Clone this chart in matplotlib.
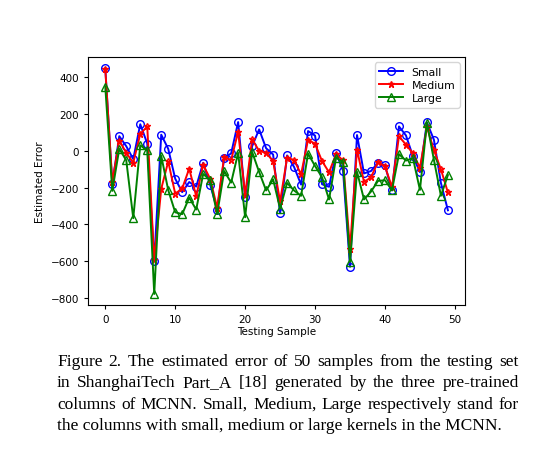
import numpy as np
import matplotlib
matplotlib.use("Agg")
import matplotlib.pyplot as plt

# ============================
#  DATA
# ============================
samples = np.arange(50)

small = [450, -180, 80, 25, -45, 145, 40, -600, 88, 11,
         -152, -225, -170, -195, -65, -185, -320, -40, -14, 157,
         -254, 25, 117, 14, -20, -340, -25, -88, -184, 108,
         83, -182, -196, -11, -108, -632, 86, -123, -110, -65,
         -79, -216, 133, 84, -30, -116, 155, 60, -175, -324]

medium = [445, -170, 56, -11, -65, 92, 133, -596, -207, -58,
          -234, -205, -97, -247, -77, -152, -310, -33, -50, 104,
          -240, 63, 0, -11, -56, -276, -38, -50, -128, 61,
          38, -56, -117, -18, -52, -533, 7, -170, -144, -60,
          -85, -198, 79, 34, -14, -92, 130, 3, -101, -227]

large = [349, -218, 11, -52, -367, 30, 2, -780, -27, -214,
         -335, -345, -255, -320, -126, -160, -345, -110, -173, -11,
         -362, -6, -115, -216, -155, -315, -175, -216, -245, -15,
         -83, -144, -265, -38, -60, -605, -114, -265, -222, -164,
         -160, -215, -18, -53, -40, -213, 153, -50, -245, -132]

caption = [
    "Figure 2. The estimated error of 50 samples from the testing set",
    "in ShanghaiTech Part_A [18] generated by the three pre-trained",
    "columns of MCNN. Small, Medium, Large respectively stand for",
    "the columns with small, medium or large kernels in the MCNN.",
]

# ============================
#  FIGURE
# ============================
fig = plt.figure(figsize=(5.51, 4.64), dpi=100)
ax = fig.add_axes([0.160, 0.340, 0.684, 0.535])

ax.plot(samples, small, "b-o", mfc="none", ms=5.5, lw=1.4, label="Small")
ax.plot(samples, medium, "r-*", mfc="none", ms=5, lw=1.4, label="Medium")
ax.plot(samples, large, "g-^", mfc="none", ms=5.5, lw=1.4, label="Large")

ax.set_xticks([0, 10, 20, 30, 40, 50])
ax.set_yticks([-800, -600, -400, -200, 0, 200, 400])
ax.tick_params(labelsize=7.5, length=3)
ax.set_xlabel("Testing Sample", fontsize=7.5, labelpad=1)
ax.set_ylabel("Estimated Error", fontsize=7.5)
ax.legend(loc="upper right", fontsize=7.8, handlelength=2.2,
          borderpad=0.4, labelspacing=0.3)

# ============================
#  CAPTION (justified lines)
# ============================
x_left, x_right = 57 / 551, 519 / 551
line_y = [362, 383, 405, 426]
renderer = fig.canvas.get_renderer()
fs = 12.5
for k, line in enumerate(caption):
    y = 1 - line_y[k] / 464
    if k == len(caption) - 1:
        fig.text(x_left, y, line, family="Liberation Serif", fontsize=fs,
                 va="center", ha="left")
        continue
    words = line.split(" ")
    objs = [fig.text(0, y, w, family="Liberation Serif", fontsize=fs,
                     va="center", ha="left") for w in words]
    widths = [o.get_window_extent(renderer).width / fig.bbox.width for o in objs]
    gap = (x_right - x_left - sum(widths)) / (len(words) - 1)
    pos = x_left
    for o, w in zip(objs, widths):
        o.set_x(pos)
        pos += w + gap

fig.savefig("out.png", dpi=100)
